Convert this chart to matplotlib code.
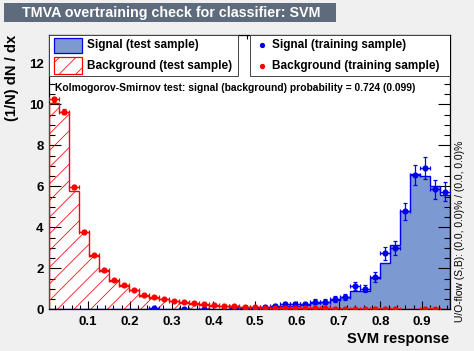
import numpy as np
import matplotlib as mpl
import matplotlib.pyplot as plt
from matplotlib.patches import Rectangle
from matplotlib.lines import Line2D

mpl.rcParams.update({
    'font.family': 'Liberation Sans',
    'font.weight': 'bold',
    'hatch.linewidth': 0.55,
    'hatch.color': '#ff0000',
})

# SVM response range, 40 bins
x_lo, x_hi = 0.006, 0.967
n_bins = 40

# test samples (histograms), normalised (1/N) dN/dx
sig_test = [0, 0, 0, 0, 0, 0, 0, 0, 0, 0,
            0, 0, 0, 0, 0, 0, 0.01, 0.02, 0.03, 0.04,
            0.05, 0.08, 0.10, 0.15, 0.18, 0.22, 0.30, 0.35, 0.45, 0.60,
            0.90, 0.90, 1.55, 2.27, 3.12, 4.80, 6.58, 6.50, 6.03, 5.57]
bkg_test = [10.05, 9.62, 5.75, 3.75, 2.62, 1.88, 1.36, 1.15, 0.92, 0.66,
            0.56, 0.50, 0.42, 0.33, 0.28, 0.22, 0.18, 0.15, 0.12, 0.10,
            0.09, 0.08, 0.07, 0.06, 0.05, 0.05, 0.04, 0.04, 0.03, 0.03,
            0.03, 0.02, 0.02, 0.02, 0.02, 0.01, 0.01, 0.01, 0.01, 0.01]

# training samples (points with errors)
sig_train = [np.nan] * 10 + [0.04, np.nan, np.nan, 0.02, np.nan, 0.02, np.nan, np.nan, 0.04, 0.03,
             0.05, 0.10, 0.18, 0.24, 0.24, 0.26, 0.37, 0.37, 0.50, 0.62,
             1.12, 1.01, 1.56, 2.73, 2.97, 4.78, 6.56, 6.90, 5.85, 5.74]
sig_train_err = [0] * 10 + [0.04, 0, 0, 0.03, 0, 0.03, 0, 0, 0.04, 0.04,
                 0.05, 0.07, 0.09, 0.10, 0.10, 0.10, 0.12, 0.12, 0.14, 0.15,
                 0.20, 0.19, 0.24, 0.33, 0.34, 0.42, 0.50, 0.52, 0.46, 0.45]
bkg_train = [10.24, 9.63, 5.96, 3.78, 2.65, 1.93, 1.41, 1.18, 0.96, 0.70,
             0.60, 0.52, 0.42, 0.36, 0.31, 0.26, 0.22, 0.18, 0.15, 0.12,
             0.10, 0.08, 0.07, 0.06, 0.05, 0.05, 0.04, 0.04, 0.03, 0.03,
             0.03, 0.03, 0.03, 0.03, 0.02, np.nan, np.nan, 0.03, 0.03, np.nan]
bkg_train_err = [0.12, 0.12, 0.09, 0.07, 0.06, 0.05, 0.045, 0.04, 0.035, 0.03,
                 0.03, 0.03, 0.025, 0.025, 0.02, 0.02, 0.02, 0.02, 0.015, 0.015,
                 0.015, 0.01, 0.01, 0.01, 0.01, 0.01, 0.01, 0.01, 0.01, 0.01,
                 0.01, 0.01, 0.01, 0.01, 0.01, 0, 0, 0.01, 0.01, 0]

ks_text = 'Kolmogorov-Smirnov test: signal (background) probability = 0.724 (0.099)'
uo_text = 'U/O-flow (S,B): (0.0, 0.0)% / (0.0, 0.0)%'

sig_fill = '#7d99d1'
sig_line = '#0000ee'
bkg_line = '#ff0000'

edges = np.linspace(x_lo, x_hi, n_bins + 1)
centers = 0.5 * (edges[:-1] + edges[1:])
half_w = 0.5 * (edges[1] - edges[0])

fig = plt.figure(figsize=(4.74, 3.51), dpi=100)
fig.patch.set_facecolor('#f0f0f0')
ax = fig.add_axes([0.1034, 0.1188, 0.8460, 0.7815])

# histograms
ax.stairs(sig_test, edges, fill=True, facecolor=sig_fill, edgecolor='none', zorder=1)
ax.stairs(sig_test, edges, color=sig_line, linewidth=1, zorder=2)
ax.stairs(bkg_test, edges, fill=True, facecolor='none', edgecolor=bkg_line,
          hatch='//', linewidth=0, zorder=2)
ax.stairs(bkg_test, edges, color=bkg_line, linewidth=1, zorder=3)

# training points
ax.errorbar(centers, sig_train, xerr=half_w, yerr=sig_train_err, fmt='o', color=sig_line,
            markersize=3.4, elinewidth=0.9, capsize=1.5, capthick=0.9, zorder=4)
ax.errorbar(centers, bkg_train, xerr=half_w, yerr=bkg_train_err, fmt='o', color=bkg_line,
            markersize=3.4, elinewidth=0.9, capsize=1.5, capthick=0.9, zorder=4)

ax.set_xlim(x_lo, x_hi)
ax.set_ylim(0, 13.38)
ax.set_xticks(np.arange(0.1, 0.95, 0.1))
ax.set_xticklabels(['0.1', '0.2', '0.3', '0.4', '0.5', '0.6', '0.7', '0.8', '0.9'])
ax.set_xticks(np.arange(0.02, 0.967, 0.02), minor=True)
ax.set_yticks(np.arange(0, 13, 2))
ax.set_yticks(np.arange(0, 13.38, 0.5), minor=True)
ax.tick_params(which='both', direction='in', top=True, right=True, labelsize=9.5, width=0.8)
ax.tick_params(axis='y', which='major', length=8.5, pad=4)
ax.tick_params(axis='y', which='minor', length=4.3)
ax.tick_params(axis='x', which='major', length=6, pad=5)
ax.tick_params(axis='x', which='minor', length=3)
for lab in ax.get_xticklabels() + ax.get_yticklabels():
    lab.set_fontweight('bold')
for sp in ax.spines.values():
    sp.set_linewidth(0.9)

# legend boxes
tr = ax.transAxes
ax.add_patch(Rectangle((0.0, 0.851), 0.471, 0.149, transform=tr, facecolor='white',
                       edgecolor='#444444', linewidth=0.7, zorder=5))
ax.add_patch(Rectangle((0.501, 0.851), 0.499, 0.149, transform=tr, facecolor='white',
                       edgecolor='#444444', linewidth=0.7, zorder=5))
ax.add_patch(Rectangle((0.0125, 0.934), 0.07, 0.055, transform=tr, facecolor=sig_fill,
                       edgecolor=sig_line, linewidth=0.9, zorder=6))
ax.add_patch(Rectangle((0.0125, 0.858), 0.07, 0.062, transform=tr, facecolor='white',
                       edgecolor=bkg_line, hatch='//', linewidth=0.9, zorder=6))
ax.text(0.0948, 0.9636, 'Signal (test sample)', transform=tr, fontsize=8.5,
        va='center', ha='left', zorder=7)
ax.text(0.0948, 0.887, 'Background (test sample)', transform=tr, fontsize=8.5,
        va='center', ha='left', zorder=7)
ax.add_line(Line2D([0.531], [0.9636], transform=tr, marker='o', markersize=2.8,
                   color=sig_line, zorder=7))
ax.add_line(Line2D([0.531], [0.887], transform=tr, marker='o', markersize=2.8,
                   color=bkg_line, zorder=7))
ax.text(0.556, 0.9636, 'Signal (training sample)', transform=tr, fontsize=8.5,
        va='center', ha='left', zorder=7)
ax.text(0.556, 0.887, 'Background (training sample)', transform=tr, fontsize=8.5,
        va='center', ha='left', zorder=7)
ax.text(0.015, 0.807, ks_text, transform=tr, fontsize=7.4, va='center', ha='left', zorder=7)

# title box
fig.patches.append(Rectangle((0.0084, 0.937), 0.700, 0.054, transform=fig.transFigure,
                             facecolor='#5d6b7d', edgecolor='none'))
fig.text(0.046, 0.964, 'TMVA overtraining check for classifier: SVM', color='white',
         fontsize=10.3, va='center', ha='left')

# axis titles
fig.text(0.025, 0.900, '(1/N) dN / dx', rotation=90, fontsize=10.6, ha='center', va='top')
fig.text(0.947, 0.0356, 'SVM response', fontsize=10.6, ha='right', va='center')
fig.text(0.970, 0.0826, uo_text, rotation=90, fontsize=7.4, fontweight='normal',
         ha='center', va='bottom')

fig.savefig('out.png', dpi=100, facecolor=fig.get_facecolor())
